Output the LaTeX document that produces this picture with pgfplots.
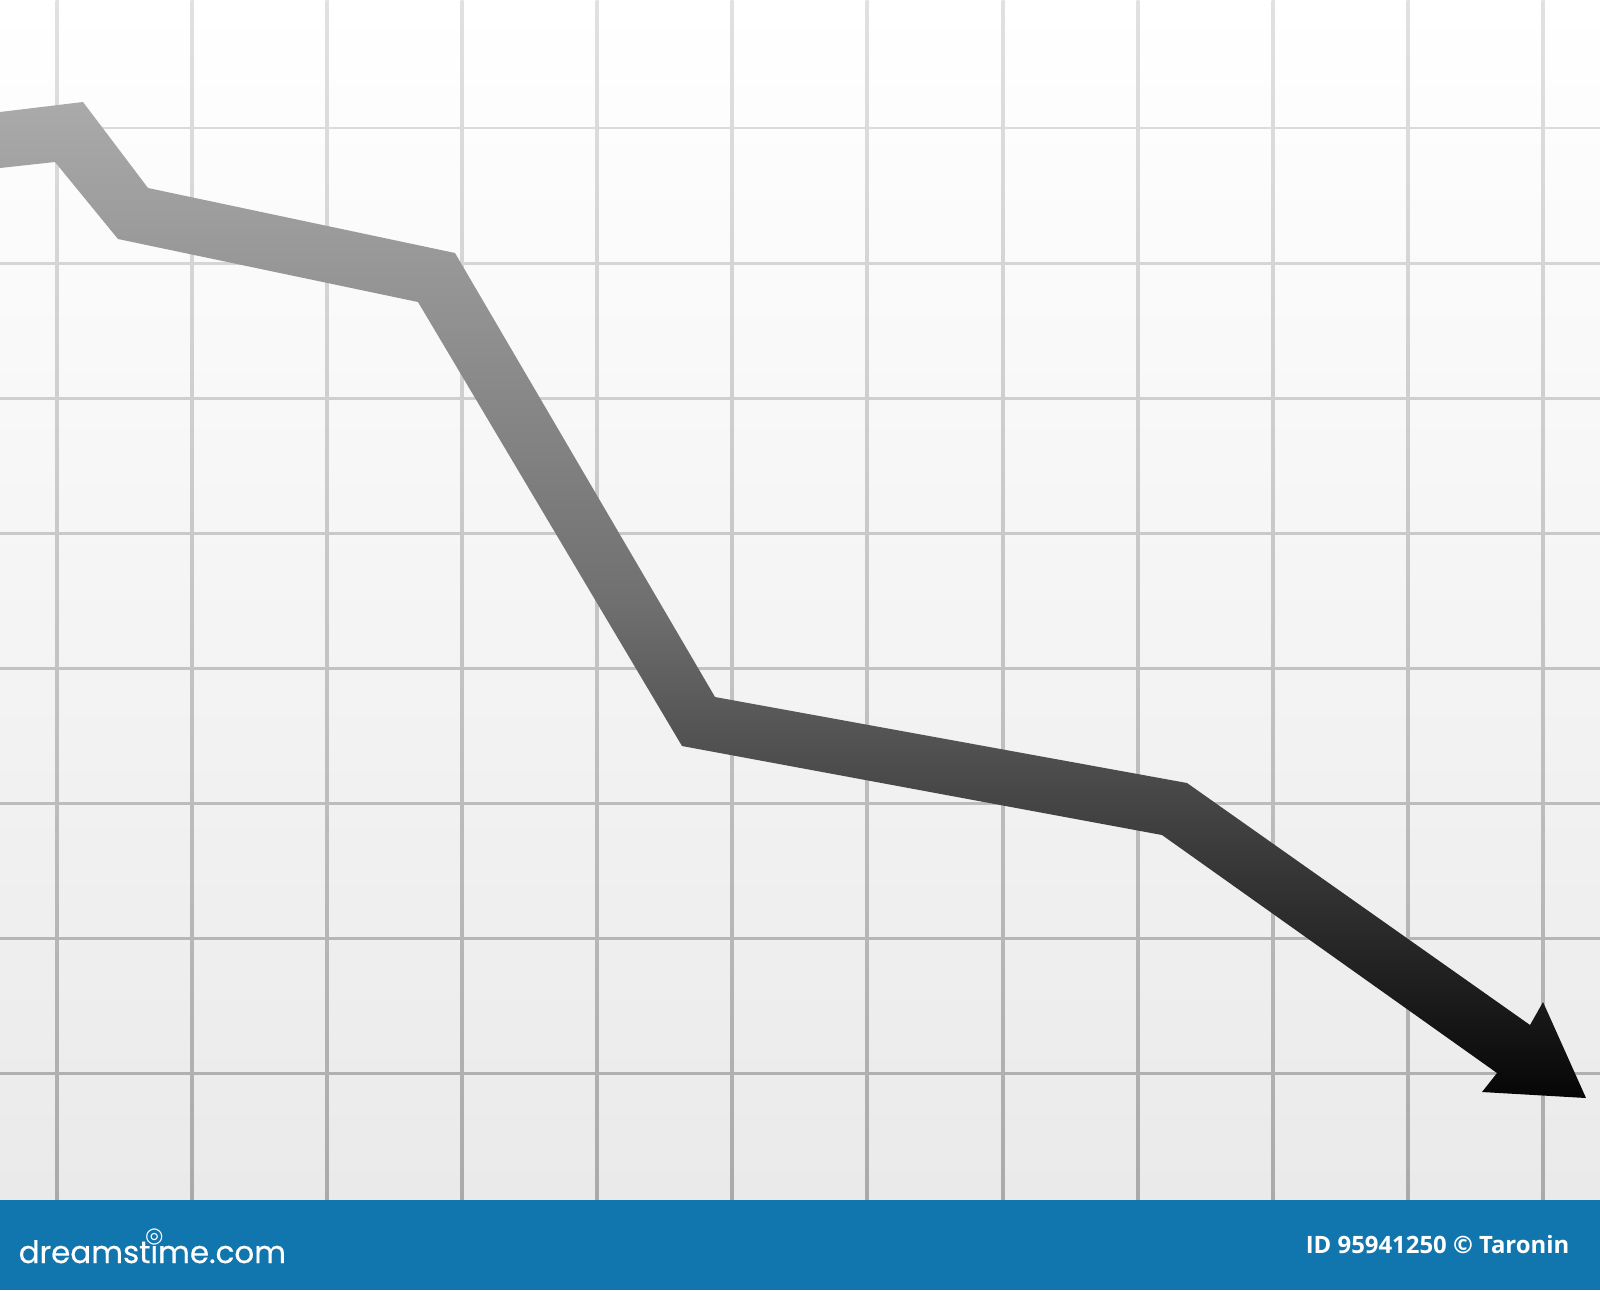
\documentclass[border=0pt]{standalone}
\usepackage{fontspec}
\usepackage{pgfplots}
\pgfplotsset{compat=1.18}
\newfontfamily\logofont{Poppins}[FakeBold=0.5]
\newfontfamily\swirlfont{DejaVu Sans}
\newfontfamily\idfont{Open Sans}
\definecolor{footblue}{RGB}{17,118,174}
\definecolor{bgbot}{RGB}{234,234,234}
\definecolor{gtop}{RGB}{225,225,225}
\definecolor{gbot}{RGB}{170,170,170}
\definecolor{btop}{RGB}{170,170,170}
\definecolor{bmid}{RGB}{112,112,112}
\definecolor{bbot}{RGB}{6,6,6}
\definecolor{h1}{RGB}{219,219,219}
\definecolor{h2}{RGB}{213,213,213}
\definecolor{h3}{RGB}{207,207,207}
\definecolor{h4}{RGB}{201,201,201}
\definecolor{h5}{RGB}{194,194,194}
\definecolor{h6}{RGB}{188,188,188}
\definecolor{h7}{RGB}{182,182,182}
\definecolor{h8}{RGB}{176,176,176}
\begin{document}
\begin{tikzpicture}
\begin{axis}[width=16cm,height=12.9cm,scale only axis,
  xmin=0,xmax=1600,ymin=0,ymax=1290,y dir=reverse,
  axis line style={draw=none},xtick=\empty,ytick=\empty]
% background
\addplot[draw=none, top color=white, bottom color=bgbot] coordinates {(0,0)(1600,0)(1600,1200)(0,1200)} -- cycle;
% vertical grid lines
\addplot[draw=none, top color=gtop, bottom color=gbot] coordinates {(55.5,0)(58.5,0)(58.5,1200)(55.5,1200)} -- cycle;
\addplot[draw=none, top color=gtop, bottom color=gbot] coordinates {(190.5,0)(193.5,0)(193.5,1200)(190.5,1200)} -- cycle;
\addplot[draw=none, top color=gtop, bottom color=gbot] coordinates {(325.5,0)(328.5,0)(328.5,1200)(325.5,1200)} -- cycle;
\addplot[draw=none, top color=gtop, bottom color=gbot] coordinates {(460.5,0)(463.5,0)(463.5,1200)(460.5,1200)} -- cycle;
\addplot[draw=none, top color=gtop, bottom color=gbot] coordinates {(595.5,0)(598.5,0)(598.5,1200)(595.5,1200)} -- cycle;
\addplot[draw=none, top color=gtop, bottom color=gbot] coordinates {(730.5,0)(733.5,0)(733.5,1200)(730.5,1200)} -- cycle;
\addplot[draw=none, top color=gtop, bottom color=gbot] coordinates {(865.5,0)(868.5,0)(868.5,1200)(865.5,1200)} -- cycle;
\addplot[draw=none, top color=gtop, bottom color=gbot] coordinates {(1001.5,0)(1004.5,0)(1004.5,1200)(1001.5,1200)} -- cycle;
\addplot[draw=none, top color=gtop, bottom color=gbot] coordinates {(1136.5,0)(1139.5,0)(1139.5,1200)(1136.5,1200)} -- cycle;
\addplot[draw=none, top color=gtop, bottom color=gbot] coordinates {(1271.5,0)(1274.5,0)(1274.5,1200)(1271.5,1200)} -- cycle;
\addplot[draw=none, top color=gtop, bottom color=gbot] coordinates {(1406.5,0)(1409.5,0)(1409.5,1200)(1406.5,1200)} -- cycle;
\addplot[draw=none, top color=gtop, bottom color=gbot] coordinates {(1541.5,0)(1544.5,0)(1544.5,1200)(1541.5,1200)} -- cycle;
% horizontal grid lines
\addplot[h1, line width=0.85pt] coordinates {(0,128)(1600,128)};
\addplot[h2, line width=0.85pt] coordinates {(0,263)(1600,263)};
\addplot[h3, line width=0.85pt] coordinates {(0,398)(1600,398)};
\addplot[h4, line width=0.85pt] coordinates {(0,533)(1600,533)};
\addplot[h5, line width=0.85pt] coordinates {(0,668)(1600,668)};
\addplot[h6, line width=0.85pt] coordinates {(0,803)(1600,803)};
\addplot[h7, line width=0.85pt] coordinates {(0,938)(1600,938)};
\addplot[h8, line width=0.85pt] coordinates {(0,1073)(1600,1073)};
% descending arrow band
\addplot[draw=none, top color=btop, bottom color=bbot, middle color=bmid] coordinates {
 (0,112) (83,102) (148,188) (455,253) (715,697) (1187,783) (1530,1025)
 (1543,1002) (1586,1098) (1482,1092) (1497,1073)
 (1162,835) (682,746) (418,302) (118,239) (55,162) (0,168)} -- cycle;
% footer bar
\addplot[draw=none, fill=footblue] coordinates {(0,1200)(1600,1200)(1600,1290)(0,1290)} -- cycle;
\node[anchor=base west, text=white, inner sep=0pt, font=\logofont\fontsize{8.8}{10}\selectfont] at (axis cs:18,1263)
 {dreamst\ooalign{ı\cr\hidewidth\raisebox{5.9pt}{\swirlfont\fontsize{6}{6}\selectfont ◎}\hidewidth\cr}me.com};
\node[anchor=base east, text=white, inner sep=0pt, font=\idfont\bfseries\fontsize{6.8}{8}\selectfont] at (axis cs:1570,1253) {ID 95941250 © Taronin};
\end{axis}
\end{tikzpicture}
\end{document}
